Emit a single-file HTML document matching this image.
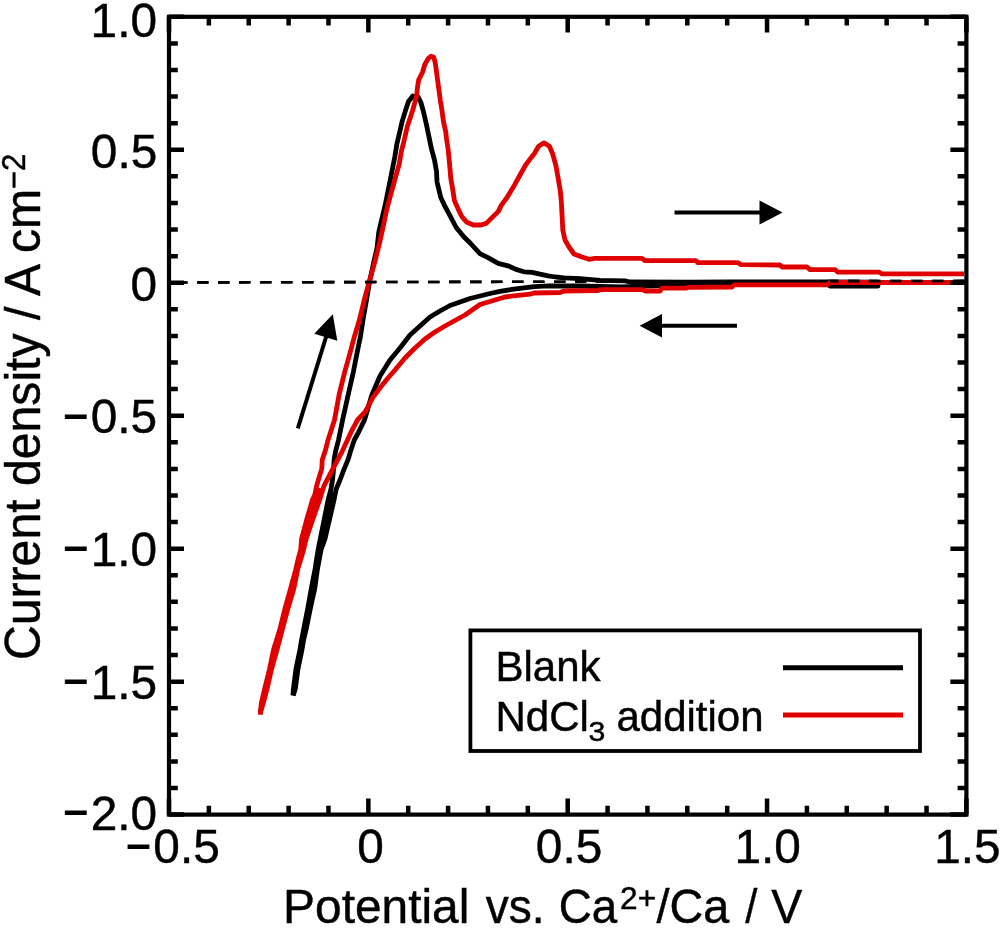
<!DOCTYPE html>
<html><head><meta charset="utf-8"><style>
html,body{margin:0;padding:0;background:#fff;}
svg{display:block;}
text{font-family:"Liberation Sans",Arial,sans-serif;font-size:48px;fill:#000;stroke:#000;stroke-width:0.45px;}
</style></head><body>
<svg width="1000" height="928" viewBox="0 0 1000 928">
<rect width="1000" height="928" fill="#fff"/>
<polyline points="292.9,695.5 293.5,688.2 296.0,668.8 300.0,649.4 301.6,640.0 304.0,627.6 307.8,608.2 311.3,588.8 315.0,569.4 318.1,550.0 320.3,538.8 324.2,519.4 328.1,500.0 330.8,490.0 332.5,480.0 333.5,470.0 334.2,459.0 335.6,451.3 338.5,440.0 342.6,420.0 348.0,395.4 353.4,371.7 357.2,352.3 360.5,336.2 363.0,320.0 366.5,300.0 369.5,282.0 373.8,262.0 377.0,248.0 378.8,232.0 385.1,205.4 391.6,173.1 394.8,156.9 396.9,144.0 400.2,130.0 402.0,121.9 405.3,111.1 408.5,101.4 412.8,96.0 418.2,97.1 420.9,102.5 423.6,112.2 426.3,124.0 429.0,137.0 431.6,149.4 434.5,160.0 436.5,171.4 437.0,181.7 440.7,197.3 444.5,205.5 448.5,212.8 456.2,227.5 464.0,237.0 470.2,243.0 479.9,253.6 488.5,257.9 498.2,263.3 508.0,265.8 516.0,269.4 524.0,271.8 532.0,272.4 540.0,274.2 548.0,275.8 556.0,277.0 564.0,277.8 580.0,278.6 600.0,280.4 625.0,280.8 630.0,282.0 690.0,282.2 730.0,282.0 780.0,281.8 827.0,281.8 878.0,282.2" fill="none" stroke="#000" stroke-width="4.8" stroke-linejoin="round" stroke-linecap="butt"/>
<polyline points="878.0,282.2 878.0,286.0 830.0,286.0 828.0,284.5 734.0,284.5 700.0,285.0 660.0,285.5 622.0,286.8 600.0,286.5 580.0,286.0 548.0,285.8 534.4,286.6 524.0,287.8 512.0,289.4 500.0,291.4 490.0,293.5 480.0,296.0 470.0,298.5 460.0,302.0 450.0,305.5 440.0,311.0 430.0,317.0 420.0,326.0 410.0,335.0 400.0,348.0 390.0,360.0 380.0,376.0 371.7,395.4 364.5,420.0 358.2,432.9 354.3,440.0 350.5,451.3 348.3,458.9 343.7,470.2 340.0,480.0 336.2,489.0 334.0,500.0 329.5,519.4 325.0,538.8 321.0,550.0 317.4,569.4 314.7,588.8 310.4,608.2 306.5,627.6 303.6,640.0 302.0,649.4 298.0,668.8 295.4,688.2 293.2,695.5" fill="none" stroke="#000" stroke-width="4.8" stroke-linejoin="round" stroke-linecap="butt"/>
<polyline points="332.9,492.0 332.0,496.0 331.1,500.0 330.2,504.0 329.3,508.0 328.5,512.0 327.6,516.0 326.7,520.0 325.9,524.0 325.0,528.0 324.1,532.0 323.3,536.0 322.3,540.0 321.2,544.0 320.1,548.0 319.2,552.0 318.5,556.0 317.8,560.0 317.1,564.0 316.4,568.0 315.8,572.0 315.1,576.0 314.5,580.0 313.8,584.0 313.1,588.0 312.4,592.0 311.6,596.0 310.7,600.0 309.9,604.0 309.1,608.0 308.3,612.0 307.6,616.0 306.8,620.0 306.0,624.0 305.2,628.0 304.3,632.0 303.5,636.0 302.6,640.0 301.9,644.0 301.2,648.0 300.5,652.0 299.6,656.0 298.8,660.0 298.0,664.0 297.2,668.0 296.6,672.0 296.1,676.0 295.5,680.0 295.0,684.0 294.5,688.0 293.7,692.0" fill="none" stroke="#000" stroke-width="4.8" stroke-linejoin="round"/>
<path d="M176 282.45L966.40 280.9" stroke="#000" stroke-width="2.6" stroke-dasharray="11.5 9.5" fill="none"/>
<polyline points="260.2,714.5 260.4,712.4 261.4,702.7 264.8,688.2 269.6,668.8 273.6,649.4 279.7,630.0 285.1,608.2 290.5,588.8 295.8,569.4 298.4,558.2 300.7,550.0 301.6,538.8 306.8,519.4 312.4,500.0 314.9,494.5 316.6,485.9 319.2,477.2 321.8,468.6 322.2,460.0 325.5,450.0 328.0,440.0 334.5,420.0 339.4,393.3 344.8,371.7 350.2,352.3 354.5,336.2 359.4,320.0 364.8,297.6 369.1,282.3 374.5,263.1 379.9,241.6 383.5,225.0 387.2,207.6 393.7,183.9 399.1,164.5 401.3,151.6 404.0,141.0 407.4,126.2 412.8,110.0 416.6,96.0 417.6,86.3 418.7,79.9 422.5,72.3 424.7,64.8 428.4,58.3 431.1,56.2 433.8,57.2 435.4,63.7 437.0,75.6 438.7,88.5 440.3,100.3 441.9,110.0 443.5,121.9 445.7,131.6 446.7,140.0 448.2,150.0 449.7,165.6 450.8,178.5 452.5,188.0 454.5,200.8 458.3,209.4 461.8,216.5 466.9,222.3 473.4,225.0 480.9,225.0 486.3,223.4 492.8,216.9 498.2,211.6 501.4,205.1 507.0,197.5 514.7,184.7 520.0,175.0 525.4,165.3 531.9,156.6 534.3,153.7 538.6,146.2 544.0,142.9 549.4,146.2 552.6,153.7 555.9,165.6 558.0,177.4 560.2,190.3 561.3,201.1 562.0,214.0 562.8,230.0 565.0,240.0 569.0,247.0 574.0,254.0 582.0,257.0 589.0,259.3 595.0,258.3 642.0,258.3 645.0,260.7 696.0,260.7 698.0,262.7 738.0,262.7 741.0,264.7 780.0,265.0 782.0,267.0 807.0,267.0 810.0,269.6 835.0,269.6 838.0,272.2 879.0,272.2 882.0,273.9 964.0,273.9" fill="none" stroke="#e00000" stroke-width="4.8" stroke-linejoin="round" stroke-linecap="butt"/>
<polyline points="964.0,282.5 830.0,282.5 827.0,284.9 734.0,284.9 732.0,287.0 688.0,287.3 686.0,288.2 662.0,288.2 660.0,291.0 645.0,291.0 643.0,289.7 600.0,289.7 598.0,290.5 564.0,291.0 560.0,292.5 534.0,293.0 530.0,294.2 513.6,295.8 505.0,297.0 495.0,300.0 485.0,303.0 480.0,304.5 475.0,308.0 465.0,315.0 455.0,320.5 445.0,326.0 435.0,332.0 425.0,339.0 415.0,348.0 405.0,358.0 395.0,370.0 388.0,378.0 380.3,387.5 372.8,397.6 365.3,411.6 357.5,420.0 351.7,430.8 347.5,440.0 342.2,451.3 336.2,462.6 330.2,473.9 324.0,485.9 319.6,500.0 312.7,519.4 306.2,538.8 303.5,550.0 301.1,558.2 297.7,569.4 293.8,588.8 288.0,608.2 282.2,630.0 277.1,649.4 271.6,668.8 267.2,688.2 263.4,702.7 260.4,712.4 260.2,714.5" fill="none" stroke="#e00000" stroke-width="4.8" stroke-linejoin="round" stroke-linecap="butt"/>
<polyline points="319.8,488.0 318.7,492.0 317.5,496.0 316.0,500.0 314.7,504.0 313.4,508.0 312.1,512.0 310.8,516.0 309.6,520.0 308.4,524.0 307.2,528.0 306.0,532.0 304.7,536.0 303.7,540.0 303.1,544.0 302.4,548.0 301.5,552.0 300.4,556.0 299.3,560.0 298.2,564.0 297.1,568.0 296.1,572.0 295.2,576.0 294.2,580.0 293.3,584.0 292.3,588.0 291.2,592.0 290.1,596.0 288.9,600.0 287.8,604.0 286.6,608.0 285.6,612.0 284.5,616.0 283.5,620.0 282.5,624.0 281.5,628.0 280.4,632.0 279.2,636.0 278.1,640.0 276.9,644.0 275.8,648.0 274.7,652.0 273.7,656.0 272.8,660.0 271.8,664.0 270.8,668.0 269.8,672.0 268.9,676.0 267.9,680.0 267.0,684.0 266.0,688.0 265.1,692.0 264.1,696.0 263.1,700.0 262.1,704.0 261.3,708.0 260.5,712.0" fill="none" stroke="#e00000" stroke-width="4.8" stroke-linejoin="round"/>
<clipPath id="dc"><rect x="0" y="0" width="580" height="928"/><rect x="830" y="0" width="170" height="928"/></clipPath>
<path d="M176 282.45L966.40 280.9" stroke="#000" stroke-width="2.6" stroke-dasharray="11.5 9.5" fill="none" clip-path="url(#dc)"/>
<path d="M169.00 814.60V798.40M169.00 16.80V32.40M208.87 814.60V805.80M208.87 16.80V25.60M248.74 814.60V805.80M248.74 16.80V25.60M288.61 814.60V805.80M288.61 16.80V25.60M328.48 814.60V805.80M328.48 16.80V25.60M368.35 814.60V798.40M368.35 16.80V32.40M408.22 814.60V805.80M408.22 16.80V25.60M448.09 814.60V805.80M448.09 16.80V25.60M487.96 814.60V805.80M487.96 16.80V25.60M527.83 814.60V805.80M527.83 16.80V25.60M567.70 814.60V798.40M567.70 16.80V32.40M607.57 814.60V805.80M607.57 16.80V25.60M647.44 814.60V805.80M647.44 16.80V25.60M687.31 814.60V805.80M687.31 16.80V25.60M727.18 814.60V805.80M727.18 16.80V25.60M767.05 814.60V798.40M767.05 16.80V32.40M806.92 814.60V805.80M806.92 16.80V25.60M846.79 814.60V805.80M846.79 16.80V25.60M886.66 814.60V805.80M886.66 16.80V25.60M926.53 814.60V805.80M926.53 16.80V25.60M966.40 814.60V798.40M966.40 16.80V32.40M169.00 16.80H184.00M966.40 16.80H950.40M169.00 43.39H177.80M966.40 43.39H957.60M169.00 69.99H177.80M966.40 69.99H957.60M169.00 96.58H177.80M966.40 96.58H957.60M169.00 123.17H177.80M966.40 123.17H957.60M169.00 149.77H184.00M966.40 149.77H950.40M169.00 176.36H177.80M966.40 176.36H957.60M169.00 202.95H177.80M966.40 202.95H957.60M169.00 229.55H177.80M966.40 229.55H957.60M169.00 256.14H177.80M966.40 256.14H957.60M169.00 282.73H184.00M966.40 282.73H950.40M169.00 309.33H177.80M966.40 309.33H957.60M169.00 335.92H177.80M966.40 335.92H957.60M169.00 362.51H177.80M966.40 362.51H957.60M169.00 389.11H177.80M966.40 389.11H957.60M169.00 415.70H184.00M966.40 415.70H950.40M169.00 442.29H177.80M966.40 442.29H957.60M169.00 468.89H177.80M966.40 468.89H957.60M169.00 495.48H177.80M966.40 495.48H957.60M169.00 522.07H177.80M966.40 522.07H957.60M169.00 548.67H184.00M966.40 548.67H950.40M169.00 575.26H177.80M966.40 575.26H957.60M169.00 601.85H177.80M966.40 601.85H957.60M169.00 628.45H177.80M966.40 628.45H957.60M169.00 655.04H177.80M966.40 655.04H957.60M169.00 681.63H184.00M966.40 681.63H950.40M169.00 708.23H177.80M966.40 708.23H957.60M169.00 734.82H177.80M966.40 734.82H957.60M169.00 761.41H177.80M966.40 761.41H957.60M169.00 788.01H177.80M966.40 788.01H957.60M169.00 814.60H184.00M966.40 814.60H950.40" stroke="#000" stroke-width="4.5" fill="none"/>
<rect x="169.0" y="16.8" width="797.40" height="797.80" fill="none" stroke="#000" stroke-width="4.2"/>
<text transform="translate(90.61 36.50) scale(0.9750 1)" style="font-size:49px">1.0</text>
<text transform="translate(90.85 168.30) scale(0.9750 1)" style="font-size:49px">0.5</text>
<text transform="translate(130.58 300.70) scale(0.9750 1)" style="font-size:49px">0</text>
<text transform="translate(63.20 432.60) scale(0.8800 1)" style="font-size:49px;stroke:#000;stroke-width:1px">−</text>
<text transform="translate(90.72 433.10) scale(0.9750 1)" style="font-size:49px">0.5</text>
<text transform="translate(63.20 565.20) scale(0.8800 1)" style="font-size:49px;stroke:#000;stroke-width:1px">−</text>
<text transform="translate(90.72 565.70) scale(0.9750 1)" style="font-size:49px">1.0</text>
<text transform="translate(63.20 698.40) scale(0.8800 1)" style="font-size:49px;stroke:#000;stroke-width:1px">−</text>
<text transform="translate(90.72 698.90) scale(0.9750 1)" style="font-size:49px">1.5</text>
<text transform="translate(63.20 829.10) scale(0.8800 1)" style="font-size:49px;stroke:#000;stroke-width:1px">−</text>
<text transform="translate(90.72 829.60) scale(0.9750 1)" style="font-size:49px">2.0</text>
<text transform="translate(126.00 862.60) scale(0.8800 1)" style="font-size:49px;stroke:#000;stroke-width:1px">−</text>
<text transform="translate(153.34 863.10) scale(0.9750 1)" style="font-size:49px">0.5</text>
<text transform="translate(357.32 863.10) scale(0.9750 1)" style="font-size:49px">0</text>
<text transform="translate(535.85 863.10) scale(0.9750 1)" style="font-size:49px">0.5</text>
<text transform="translate(734.38 863.10) scale(0.9750 1)" style="font-size:49px">1.0</text>
<text transform="translate(934.20 863.10) scale(0.9750 1)" style="font-size:49px">1.5</text>
<text transform="translate(283.10 923.30) scale(0.9770 1)" style="font-size:49px">Potential</text>
<text transform="translate(485.67 923.30) scale(0.9410 1)" style="font-size:49px">vs.</text>
<text transform="translate(558.69 923.30) scale(0.9350 1)" style="font-size:49px">Ca</text>
<text transform="translate(620.10 908.70) scale(1.0200 1)" style="font-size:31px">2+</text>
<text transform="translate(656.40 923.30) scale(0.9550 1)" style="font-size:49px">/Ca</text>
<text transform="translate(745.20 923.30) scale(0.8890 1)" style="font-size:49px">/</text>
<text transform="translate(771.36 923.30) scale(0.9500 1)" style="font-size:49px">V</text>
<text transform="translate(39.9 660.06) rotate(-90) scale(0.9833 1)" style="font-size:49px">Current density / A cm</text>
<text transform="translate(25.2 189.26) rotate(-90) scale(0.946 1)" style="font-size:33px">−2</text>
<rect x="470.4" y="630.4" width="449.6" height="120.6" fill="#fff" stroke="#000" stroke-width="3.8"/>
<text transform="translate(495.50 681.40)" style="font-size:42px">Blank</text>
<text transform="translate(495.50 731.40)" style="font-size:42px">NdCl</text>
<text transform="translate(588.60 741.25) scale(1.1200 1)" style="font-size:27px">3</text>
<text transform="translate(616.45 731.40)" style="font-size:42px">addition</text>
<path d="M783 667.7H903" stroke="#000" stroke-width="5"/>
<path d="M783 715H903" stroke="#e00000" stroke-width="5"/>
<path d="M674.5 212.5H762" stroke="#000" stroke-width="4"/>
<path d="M782.6 212.5L759.5 200.5V224.5Z" fill="#000"/>
<path d="M737 325.8H660" stroke="#000" stroke-width="4"/>
<path d="M639.6 325.8L662 314V337.6Z" fill="#000"/>
<path d="M297.8 428.3L327 334" stroke="#000" stroke-width="4"/>
<path d="M332.8 314.3L314.3 333.7L337.3 340.7Z" fill="#000"/>
</svg>
</body></html>
